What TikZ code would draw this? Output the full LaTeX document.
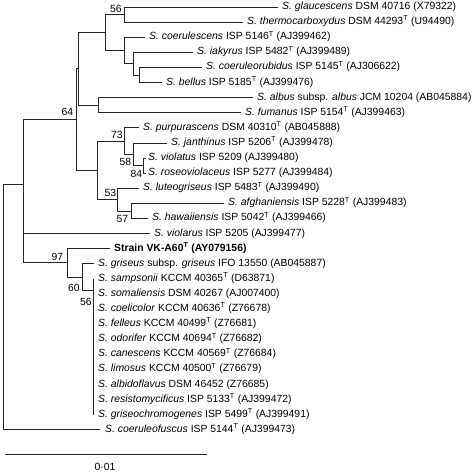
\documentclass[tikz,border=0pt]{standalone}
\usepackage{fontspec}
\setmainfont{Liberation Sans}
\newcommand{\tsup}{\textsuperscript{T}}
\begin{document}
\begin{tikzpicture}[x=1pt,y=-1pt,
  br/.style={line width=0.7pt,black!85},
  leaf/.style={anchor=west,inner sep=0pt,text height=7pt,text depth=2pt},
  bs/.style={inner sep=0pt},
  font=\fontsize{10.4}{12}\selectfont]
\useasboundingbox (0,0) rectangle (474,474);
% leaves
\node[leaf] (l0) at (282,7.0) {\textit{S. glaucescens} DSM 40716 (X79322)};
\node[leaf] (l1) at (247,22.1) {\textit{S. thermocarboxydus} DSM 44293\tsup{} (U94490)};
\node[leaf] (l2) at (149,37.2) {\textit{S. coerulescens} ISP 5146\tsup{} (AJ399462)};
\node[leaf] (l3) at (197,52.3) {\textit{S. iakyrus} ISP 5482\tsup{} (AJ399489)};
\node[leaf] (l4) at (206,67.4) {\textit{S. coeruleorubidus} ISP 5145\tsup{} (AJ306622)};
\node[leaf] (l5) at (166,82.5) {\textit{S. bellus} ISP 5185\tsup{} (AJ399476)};
\node[leaf] (l6) at (257,97.6) {\textit{S. albus} subsp. \textit{albus} JCM 10204 (AB045884)};
\node[leaf] (l7) at (245,112.7) {\textit{S. fumanus} ISP 5154\tsup{} (AJ399463)};
\node[leaf] (l8) at (143,127.8) {\textit{S. purpurascens} DSM 40310\tsup{} (AB045888)};
\node[leaf] (l9) at (171,142.9) {\textit{S. janthinus} ISP 5206\tsup{} (AJ399478)};
\node[leaf] (l10) at (148,158.0) {\textit{S. violatus} ISP 5209 (AJ399480)};
\node[leaf] (l11) at (148,173.1) {\textit{S. roseoviolaceus} ISP 5277 (AJ399484)};
\node[leaf] (l12) at (143,188.2) {\textit{S. luteogriseus} ISP 5483\tsup{} (AJ399490)};
\node[leaf] (l13) at (228,203.3) {\textit{S. afghaniensis} ISP 5228\tsup{} (AJ399483)};
\node[leaf] (l14) at (152,218.4) {\textit{S. hawaiiensis} ISP 5042\tsup{} (AJ399466)};
\node[leaf] (l15) at (154,233.5) {\textit{S. violarus} ISP 5205 (AJ399477)};
\node[leaf] (l16) at (114,248.6) {\textbf{Strain VK-A60\tsup{} (AY079156)}};
\node[leaf] (l17) at (98,263.7) {\textit{S. griseus} subsp. \textit{griseus} IFO 13550 (AB045887)};
\node[leaf] (l18) at (98,278.8) {\textit{S. sampsonii} KCCM 40365\tsup{} (D63871)};
\node[leaf] (l19) at (98,293.9) {\textit{S. somaliensis} DSM 40267 (AJ007400)};
\node[leaf] (l20) at (98,309.0) {\textit{S. coelicolor} KCCM 40636\tsup{} (Z76678)};
\node[leaf] (l21) at (98,324.1) {\textit{S. felleus} KCCM 40499\tsup{} (Z76681)};
\node[leaf] (l22) at (98,339.2) {\textit{S. odorifer} KCCM 40694\tsup{} (Z76682)};
\node[leaf] (l23) at (98,354.3) {\textit{S. canescens} KCCM 40569\tsup{} (Z76684)};
\node[leaf] (l24) at (98,369.4) {\textit{S. limosus} KCCM 40500\tsup{} (Z76679)};
\node[leaf] (l25) at (98,384.5) {\textit{S. albidoflavus} DSM 46452 (Z76685)};
\node[leaf] (l26) at (98,399.6) {\textit{S. resistomycificus} ISP 5133\tsup{} (AJ399472)};
\node[leaf] (l27) at (98,414.7) {\textit{S. griseochromogenes} ISP 5499\tsup{} (AJ399491)};
\node[leaf] (l28) at (105,429.8) {\textit{S. coeruleofuscus} ISP 5144\tsup{} (AJ399473)};
% internal nodes
\coordinate (A) at (124,14.55);
\coordinate (C3) at (139,74.95);
\coordinate (C2) at (133,63.6);
\coordinate (C) at (124,50.4);
\coordinate (B) at (105,32.5);
\coordinate (F) at (98,105.15);
\coordinate (D) at (78,68.8);
\coordinate (K) at (143,165.55);
\coordinate (J) at (133,154.2);
\coordinate (I) at (124,141.0);
\coordinate (M) at (131,210.85);
\coordinate (L) at (117,199.5);
\coordinate (H) at (97,170.3);
\coordinate (G) at (76,119.5);
\coordinate (Q) at (93,290);
\coordinate (P) at (82,276.9);
\coordinate (N) at (67,262.7);
\coordinate (E) at (23,184);
\coordinate (R) at (3,184);
% branches
\draw[br] (A) |- ([xshift=-4pt]l0.west);
\draw[br] (A) |- ([xshift=-4pt]l1.west);
\draw[br] (C3) |- ([xshift=-4pt]l4.west);
\draw[br] (C3) |- ([xshift=-4pt]l5.west);
\draw[br] (C2) |- ([xshift=-4pt]l3.west);
\draw[br] (C2) |- (C3);
\draw[br] (C) |- ([xshift=-4pt]l2.west);
\draw[br] (C) |- (C2);
\draw[br] (B) |- (A);
\draw[br] (B) |- (C);
\draw[br] (F) |- ([xshift=-4pt]l6.west);
\draw[br] (F) |- ([xshift=-4pt]l7.west);
\draw[br] (D) |- (B);
\draw[br] (D) |- (F);
\draw[br] (K) |- ([xshift=-2pt]l10.west);
\draw[br] (K) |- ([xshift=-2pt]l11.west);
\draw[br] (J) |- ([xshift=-4pt]l9.west);
\draw[br] (J) |- (K);
\draw[br] (I) |- ([xshift=-4pt]l8.west);
\draw[br] (I) |- (J);
\draw[br] (M) |- ([xshift=-4pt]l13.west);
\draw[br] (M) |- ([xshift=-4pt]l14.west);
\draw[br] (L) |- ([xshift=-4pt]l12.west);
\draw[br] (L) |- (M);
\draw[br] (H) |- (I);
\draw[br] (H) |- (L);
\draw[br] (G) |- (D);
\draw[br] (G) |- (H);
\draw[br] (Q |- l18.west) -- (Q |- l27.west);
\draw[br] (P) |- ([xshift=-4pt]l17.west);
\draw[br] (P) |- (Q);
\draw[br] (N) |- ([xshift=-4pt]l16.west);
\draw[br] (N) |- (P);
\draw[br] (E) |- (G);
\draw[br] (E) |- ([xshift=-4pt]l15.west);
\draw[br] (E) |- (N);
\draw[br] (R) -- (E);
\draw[br] (R) |- ([xshift=-5pt]l28.west);
% bootstrap values
\node[bs] (b56a) at (116,8.5) {56};
\node[bs] (b64) at (67.5,112) {64};
\node[bs] (b73) at (117,135) {73};
\node[bs] (b58) at (125.5,161.5) {58};
\node[bs] (b84) at (136.5,173.5) {84};
\node[bs] (b53) at (110.5,193) {53};
\node[bs] (b57) at (122.5,219) {57};
\node[bs] (b97) at (57.5,257) {97};
\node[bs] (b60) at (74,288) {60};
\node[bs] (b56b) at (86,302) {56};
% scale bar
\coordinate (s0) at (5,454);
\coordinate (s1) at (207,454);
\draw[br] (s0) -- (s1);
\node[bs] (sl) at (105,467) {0·01};
\end{tikzpicture}
\end{document}
